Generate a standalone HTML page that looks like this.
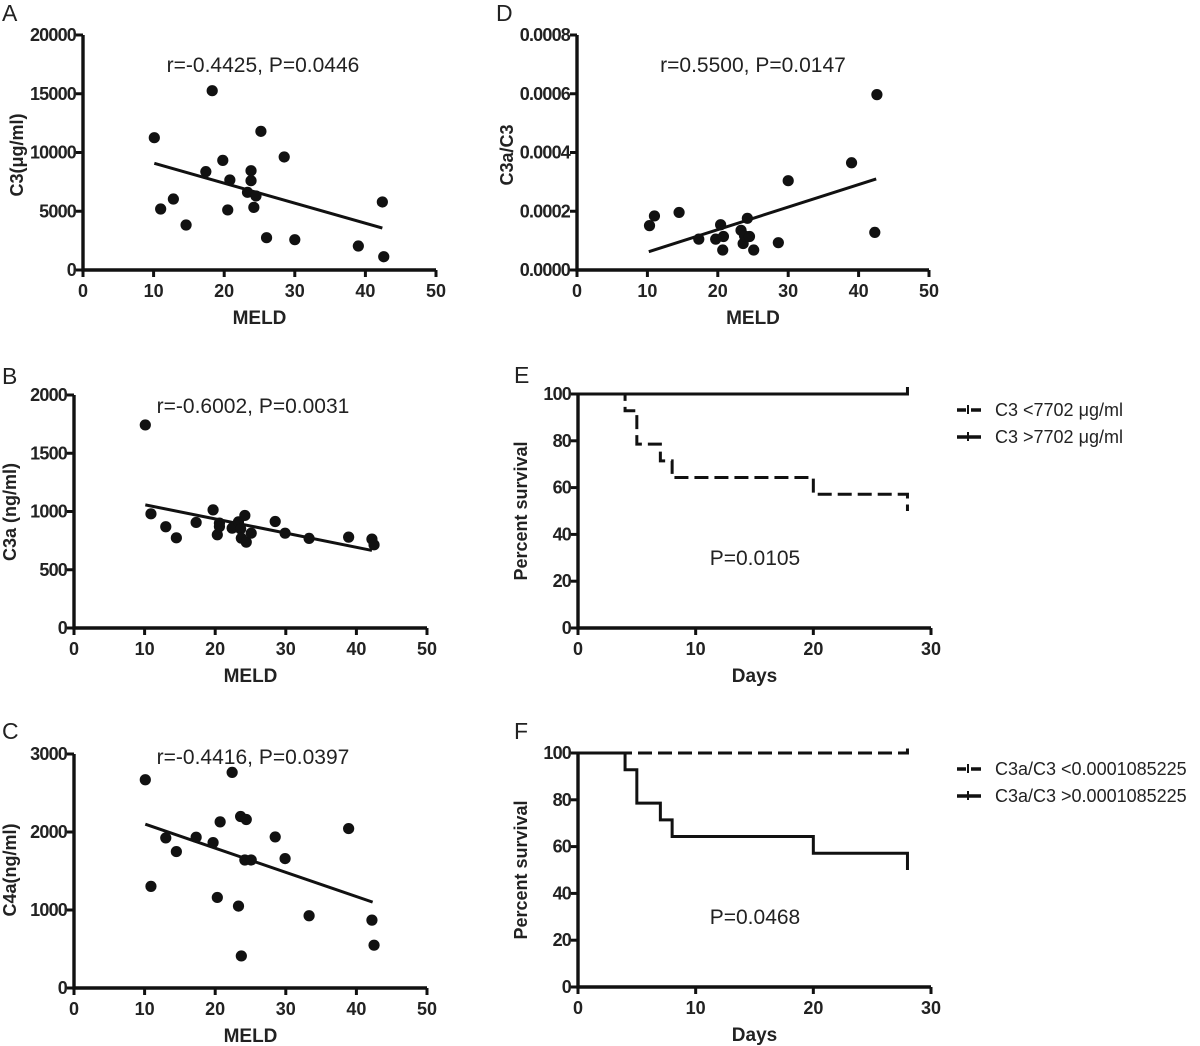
<!DOCTYPE html>
<html><head><meta charset="utf-8"><style>
html,body{margin:0;padding:0;background:#fff;}
svg{display:block;font-family:"Liberation Sans",Arial,sans-serif;}
</style></head><body>
<svg id="fig" width="1200" height="1046" viewBox="0 0 1200 1046"></svg>
<script>
// ---- Panel A data (C3 vs MELD)
const aX = [10.1,11.0,12.8,14.6,17.4,18.3,19.8,20.5,20.8,23.3,23.8,23.8,24.5,24.2,25.2,26.0,28.5,30.0,39.0,42.4,42.6];
const aY = [11260,5190,6040,3830,8370,15260,9330,5110,7660,6610,8450,7600,6300,5330,11800,2750,9620,2580,2040,5790,1130];
const aFitX = [10.1,42.4];
const aFitY = [9080,3570];
const aYTicks = [0,5000,10000,15000,20000];
// ---- Panel D data (C3a/C3 vs MELD)
const dX = [10.3,11.0,14.5,17.3,19.7,20.4,20.8,20.7,23.3,23.6,23.8,24.2,24.5,25.1,28.6,30.0,39.0,42.3,42.6];
const dY = [0.000151,0.000184,0.000196,0.000105,0.000105,0.000154,0.000114,0.000068,0.000135,0.000090,0.000116,0.000176,0.000114,0.000068,0.000093,0.000304,0.000365,0.000128,0.000597];
const dFitX = [10.2,42.5];
const dFitY = [0.0000623,0.000310];
const dYTicks = ["0.0000","0.0002","0.0004","0.0006","0.0008"];
// ---- Panel B data (C3a vs MELD)
const bX = [10.1,10.9,13.0,14.5,17.3,19.7,20.3,20.6,20.6,22.4,23.3,23.6,23.7,24.2,24.4,25.1,28.5,29.9,33.3,38.9,42.2,42.5];
const bY = [1743,980,869,774,906,1014,800,900,870,857,911,851,771,966,737,814,914,814,769,780,763,714];
const bFitX = [10.1,42.2];
const bFitY = [1057,666];
const bYTicks = [0,500,1000,1500,2000];
// ---- Panel C data (C4a vs MELD)
const cX = [10.1,10.9,13.0,14.5,17.3,19.7,20.3,20.7,22.4,23.3,23.6,23.7,24.2,24.4,25.1,28.5,29.9,33.3,38.9,42.2,42.5];
const cY = [2670,1303,1924,1749,1933,1864,1161,2130,2764,1050,2199,411,1641,2160,1641,1937,1659,926,2044,870,549];
const cFitX = [10.1,42.3];
const cFitY = [2100,1101];
const cYTicks = [0,1000,2000,3000];
const meldTicks = [0,10,20,30,40,50];
// ---- Survival data (E & F)
const kmDays = [0,4,5,7,8,20,28];
const kmLow = [100,92.86,78.57,71.43,64.29,57.14,50];
const kmFlatDays = [0,28];
const kmFlat = [100,100];
const dayTicks = [0,10,20,30];
const pctTicks = [0,20,40,60,80,100];

const NS = "http://www.w3.org/2000/svg";
const svg = document.getElementById('fig');
function mk(tag, attrs, parent){
  const e = document.createElementNS(NS, tag);
  for (const k in attrs) e.setAttribute(k, attrs[k]);
  (parent||svg).appendChild(e);
  return e;
}
function txt(s, attrs, parent){ const e = mk('text', attrs, parent); e.textContent = s; return e; }

function axes(g, P, xTicks, yTicks, yLabels){
  const sx = v => P.l + (v - P.x0)/(P.x1 - P.x0)*(P.r - P.l);
  const sy = v => P.b - (v - P.y0)/(P.y1 - P.y0)*(P.b - P.t);
  const ax = mk('path', {d:`M${P.l},${P.t} V${P.b} H${P.r}`, fill:'none', stroke:'#111', 'stroke-width':3.4}, g);
  
  
  xTicks.forEach(v => {
    const x = sx(v);
    mk('line', {x1:x, x2:x, y1:P.b, y2:P.b+7, stroke:'#111', 'stroke-width':3}, g);
    const t = txt(String(v), {x:x, y:P.b+27, 'text-anchor':'middle', 'font-size':18, 'font-weight':'bold', fill:'#222'}, g);
    
    
  });
  yTicks.forEach((v,i) => {
    const y = sy(+v);
    mk('line', {x1:P.l-7, x2:P.l, y1:y, y2:y, stroke:'#111', 'stroke-width':3}, g);
    const t = txt(yLabels ? yLabels[i] : String(v), {x:P.l-7, y:y+6, 'text-anchor':'end', 'font-size':18, 'font-weight':'bold', fill:'#222', 'letter-spacing':'-0.8'}, g);
    
    
  });
  return {sx, sy};
}

function scatterPanel(name, P, xs, ys, fx, fy, yTicks, letter, letterPos, stat, statPos, ytitle, ytPos){
  const g = mk('g', {});
  
  
  const {sx, sy} = axes(g, P, meldTicks, yTicks);
  const ln = mk('line', {x1:sx(fx[0]), y1:sy(fy[0]), x2:sx(fx[1]), y2:sy(fy[1]), stroke:'#111', 'stroke-width':3}, g);
  
  
  xs.forEach((x,i) => {
    const c = mk('circle', {cx:sx(x), cy:sy(ys[i]), r:5.6, fill:'#111'}, g);
    
    
  });
  const L = txt(letter, {x:letterPos[0], y:letterPos[1], 'font-size':23, fill:'#222'}, g);
  
  
  const S = txt(stat, {x:statPos[0], y:statPos[1], 'text-anchor':'middle', 'font-size':21, fill:'#222'}, g);
  
  
  const X = txt('MELD', {x:(P.l+P.r)/2, y:P.b+54, 'text-anchor':'middle', 'font-size':19, 'font-weight':'bold', fill:'#222'}, g);
  
  
  const Y = txt(ytitle, {x:0, y:0, transform:`translate(${ytPos[0]},${ytPos[1]}) rotate(-90)`, 'text-anchor':'middle', 'font-size':18, 'font-weight':'bold', fill:'#222'}, g);
  
  
}

scatterPanel('panel-a', {l:83,r:436,t:35,b:270,x0:0,x1:50,y0:0,y1:20000}, aX, aY, aFitX, aFitY, aYTicks, 'A', [2,21], 'r=-0.4425, P=0.0446', [263,72], 'C3(\u03bcg/ml)', [23,155]);
scatterPanel('panel-d', {l:577,r:929,t:35,b:270,x0:0,x1:50,y0:0,y1:0.0008}, dX, dY, dFitX, dFitY, dYTicks, 'D', [496,21], 'r=0.5500, P=0.0147', [753,72], 'C3a/C3', [513,155]);
scatterPanel('panel-b', {l:74,r:427,t:395,b:628,x0:0,x1:50,y0:0,y1:2000}, bX, bY, bFitX, bFitY, bYTicks, 'B', [2,384], 'r=-0.6002, P=0.0031', [253,413], 'C3a (ng/ml)', [16,512]);
scatterPanel('panel-c', {l:74,r:427,t:754,b:988,x0:0,x1:50,y0:0,y1:3000}, cX, cY, cFitX, cFitY, cYTicks, 'C', [2,739], 'r=-0.4416, P=0.0397', [253,764], 'C4a(ng/ml)', [16,870]);

function stepPath(sx, sy, days, vals){
  let d = `M${sx(days[0])},${sy(vals[0])}`;
  for (let i=1;i<days.length;i++){
    d += ` H${sx(days[i])} V${sy(vals[i])}`;
  }
  return d;
}
function kmPanel(name, P, letter, letterPos, stat, dashedIsLow, leg1, leg2){
  const g = mk('g', {});
  
  
  const {sx, sy} = axes(g, P, dayTicks, pctTicks);
  const low = mk('path', {d:stepPath(sx, sy, kmDays, kmLow), fill:'none', stroke:'#111', 'stroke-width':3, 'stroke-dasharray': dashedIsLow ? '14,6' : 'none'}, g);
  
  
  const flat = mk('path', {d:stepPath(sx, sy, kmFlatDays, kmFlat) + ` V${sy(kmFlat[1])-7}`, fill:'none', stroke:'#111', 'stroke-width':3, 'stroke-dasharray': dashedIsLow ? 'none' : '14,6'}, g);
  
  
  const L = txt(letter, {x:letterPos[0], y:letterPos[1], 'font-size':23, fill:'#222'}, g);
  
  
  const S = txt(stat, {x:755, y:P.b-63, 'text-anchor':'middle', 'font-size':21, fill:'#222'}, g);
  
  
  const X = txt('Days', {x:(P.l+P.r)/2, y:P.b+54, 'text-anchor':'middle', 'font-size':19, 'font-weight':'bold', fill:'#222'}, g);
  
  
  const Y = txt('Percent survival', {x:0, y:0, transform:`translate(${527},${(P.t+P.b)/2}) rotate(-90)`, 'text-anchor':'middle', 'font-size':18, 'font-weight':'bold', fill:'#222'}, g);
  
  
  [[leg1,true],[leg2,false]].forEach((e,i) => {
    const y = P.t + 16 + i*27;
    const lg = mk('g', {}, g);
    
    
    if (e[1]) {
      mk('line', {x1:957, x2:966, y1:y, y2:y, stroke:'#111', 'stroke-width':3.5}, lg);
      mk('line', {x1:971, x2:981, y1:y, y2:y, stroke:'#111', 'stroke-width':3.5}, lg);
    } else {
      mk('line', {x1:957, x2:981, y1:y, y2:y, stroke:'#111', 'stroke-width':3.5}, lg);
    }
    mk('line', {x1:968, x2:968, y1:y-5, y2:y+4, stroke:'#111', 'stroke-width':2}, lg);
    txt(e[0], {x:995, y:y+6, 'font-size':18, fill:'#222'}, lg);
  });
}
kmPanel('panel-e', {l:578,r:931,t:394,b:628,x0:0,x1:30,y0:0,y1:100}, 'E', [514,383], 'P=0.0105', true, 'C3 <7702 \u03bcg/ml', 'C3 >7702 \u03bcg/ml');
kmPanel('panel-f', {l:578,r:931,t:753,b:987,x0:0,x1:30,y0:0,y1:100}, 'F', [514,739], 'P=0.0468', false, 'C3a/C3 <0.0001085225', 'C3a/C3 >0.0001085225');
</script>
</body></html>
